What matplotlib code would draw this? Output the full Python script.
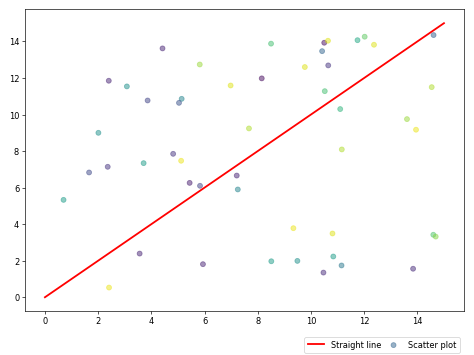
import matplotlib
matplotlib.use("Agg")
import matplotlib.pyplot as plt
import numpy as np

line_x = [0, 15]
line_y = [0, 15]

x_vals = [10.42, 4.42, 2.40, 3.08, 3.86, 2.01, 4.82, 8.50, 5.82, 9.77,
          8.15, 6.98, 5.14, 5.04, 7.67, 5.12, 10.50, 10.64, 11.75, 12.02,
          12.37, 14.61, 10.65, 10.52, 14.54, 11.10, 13.61, 13.95, 11.16, 1.66,
          2.36, 3.71, 0.70, 3.56, 2.41, 5.44, 5.83, 7.21, 7.25, 9.34,
          8.51, 9.49, 5.94, 10.81, 10.84, 11.15, 10.47, 13.84, 14.60, 14.69]
y_vals = [13.47, 13.62, 11.85, 11.54, 10.77, 9.00, 7.85, 13.88, 12.74, 12.60,
          11.98, 11.59, 10.86, 10.64, 9.24, 7.47, 13.93, 14.04, 14.07, 14.26,
          13.82, 14.35, 12.69, 11.28, 11.50, 10.30, 9.75, 9.17, 8.09, 6.83,
          7.14, 7.34, 5.33, 2.39, 0.53, 6.26, 6.10, 6.66, 5.90, 3.78,
          1.97, 1.99, 1.81, 3.49, 2.23, 1.74, 1.35, 1.56, 3.42, 3.32]
c_vals = [0.32, 0.10, 0.10, 0.50, 0.20, 0.50, 0.15, 0.70, 0.85, 0.95,
          0.03, 0.95, 0.45, 0.25, 0.88, 0.97, 0.03, 0.95, 0.60, 0.75,
          0.95, 0.30, 0.15, 0.70, 0.88, 0.65, 0.85, 0.97, 0.88, 0.22,
          0.15, 0.55, 0.55, 0.10, 0.97, 0.08, 0.20, 0.10, 0.45, 0.97,
          0.55, 0.50, 0.10, 0.95, 0.55, 0.40, 0.12, 0.12, 0.72, 0.82]

fig = plt.figure(figsize=(8, 6), dpi=59.25)
ax = fig.add_axes([0.0527, 0.1239, 0.926, 0.848])
ax.plot(line_x, line_y, color="red", linewidth=2.2, label="Straight line")
ax.scatter(x_vals, y_vals, c=c_vals, cmap="viridis", vmin=0, vmax=1,
           alpha=0.5, label="Scatter plot")
ax.set_xticks([0, 2, 4, 6, 8, 10, 12, 14])
ax.set_yticks([0, 2, 4, 6, 8, 10, 12, 14])
fig.legend(loc="upper right", bbox_to_anchor=(0.9705, 0.0507), ncol=2,
           borderaxespad=0, scatterpoints=1, columnspacing=0.5)
fig.savefig("out.png", dpi=59.25)
